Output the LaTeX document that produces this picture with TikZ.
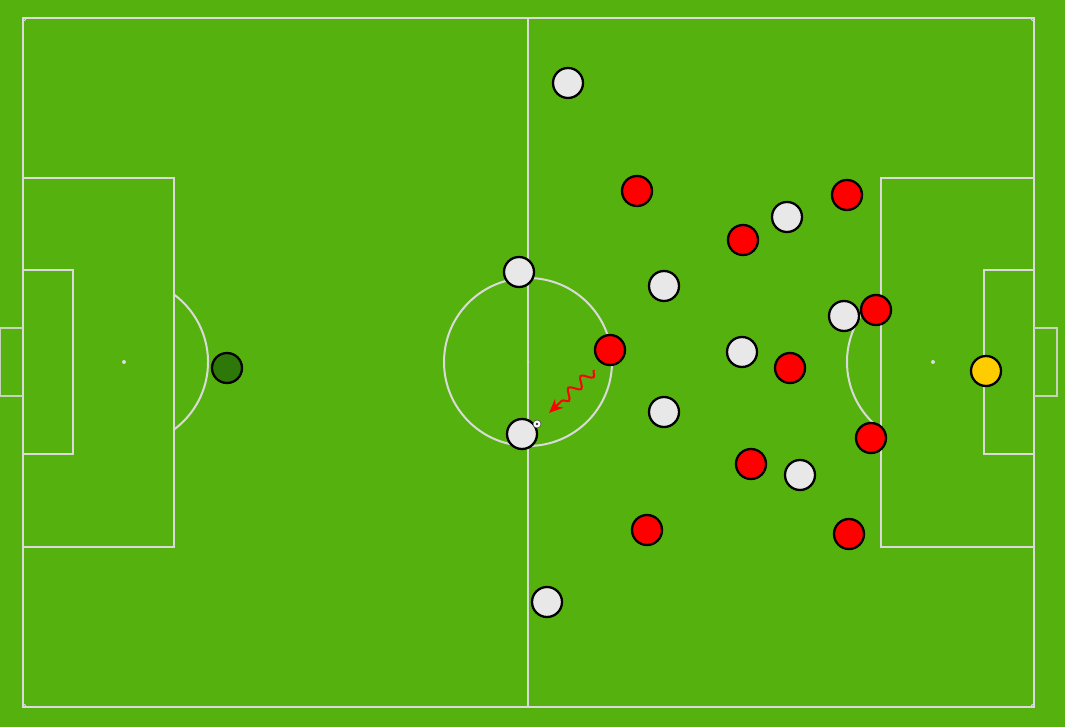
\documentclass[tikz,border=0pt]{standalone}
\usetikzlibrary{decorations.pathmorphing,arrows.meta}
\definecolor{pitch}{RGB}{85,178,14}
\definecolor{pline}{RGB}{218,218,218}
\definecolor{wplayer}{RGB}{232,232,232}
\definecolor{rplayer}{RGB}{255,0,0}
\definecolor{gkgreen}{RGB}{46,120,10}
\definecolor{gkyellow}{RGB}{255,204,0}
\begin{document}
\begin{tikzpicture}[x=1pt,y=-1pt,
  fieldline/.style={draw=pline,line width=2pt},
  goalline/.style={draw=pline!85!pitch,line width=1.4pt},
  player/.style={circle,draw=black,line width=2.3pt,minimum size=30pt,inner sep=0pt},
  white/.style={player,fill=wplayer},
  red/.style={player,fill=rplayer},
  spot/.style={circle,fill=pline,inner sep=0pt,minimum size=4pt}]
\fill[pitch] (0,0) rectangle (1065,727);
\useasboundingbox (0,0) rectangle (1065,727);
% field
\draw[fieldline] (23,18) rectangle (1034,707);
\draw[fieldline] (528,18) -- (528,707);
\draw[fieldline] (528,362) circle[radius=84];
\node[spot,minimum size=3pt] (cs) at (528,362) {};
% left side
\draw[fieldline] (23,178) rectangle (174,547);
\draw[fieldline] (23,270) rectangle (73,454);
\draw[goalline] (23,328) -- (0,328) -- (0,396) -- (23,396);
\node[spot] (lps) at (124,362) {};
\draw[fieldline] (174,294.5) arc[start angle=-53.5,end angle=53.5,radius=84];
% right side
\draw[fieldline] (1034,178) rectangle (881,547);
\draw[fieldline] (1034,270) rectangle (984,454);
\draw[goalline] (1034,328) -- (1057,328) -- (1057,396) -- (1034,396);
\node[spot] (rps) at (933,362) {};
\draw[fieldline] (881,294.5) arc[start angle=233.5,end angle=126.5,radius=84];
% corner arcs
\draw[fieldline,line width=1pt] (26,18) arc[start angle=0,end angle=90,radius=3];
\draw[fieldline,line width=1pt] (1031,18) arc[start angle=180,end angle=90,radius=3];
\draw[fieldline,line width=1pt] (26,707) arc[start angle=0,end angle=-90,radius=3];
\draw[fieldline,line width=1pt] (1031,707) arc[start angle=180,end angle=270,radius=3];
% goalkeepers
\node[player,fill=gkgreen] (gk1) at (227,368) {};
\node[player,fill=gkyellow] (gk2) at (986,371) {};
% white team
\node[white] (w1) at (568,83) {};
\node[white] (w2) at (787,217) {};
\node[white] (w3) at (519,272) {};
\node[white] (w4) at (664,286) {};
\node[white] (w5) at (844,316) {};
\node[white] (w6) at (742,352) {};
\node[white] (w7) at (664,412) {};
\node[white] (w8) at (522,434) {};
\node[white] (w9) at (800,475) {};
\node[white] (w10) at (547,602) {};
% red team
\node[red] (r1) at (637,191) {};
\node[red] (r2) at (847,195) {};
\node[red] (r3) at (743,240) {};
\node[red] (r4) at (876,310) {};
\node[red] (r5) at (610,350) {};
\node[red] (r6) at (790,368) {};
\node[red] (r7) at (871,438) {};
\node[red] (r8) at (751,464) {};
\node[red] (r9) at (647,530) {};
\node[red] (r10) at (849,534) {};
% ball
\node[circle,draw=black!70,fill=white,line width=0.6pt,minimum size=8pt,inner sep=0pt] (ball) at (537,424) {};
\fill[black!80] (ball.center) circle[radius=1.4pt];
% run
\coordinate (runstart) at (594,370);
\coordinate (runend) at (549,413);
\draw[rplayer,line width=2pt,-{Stealth[length=14pt,width=12pt]},
  decorate,decoration={snake,amplitude=5pt,segment length=17pt,post length=12pt}]
  (runstart) -- (runend);
\end{tikzpicture}
\end{document}
